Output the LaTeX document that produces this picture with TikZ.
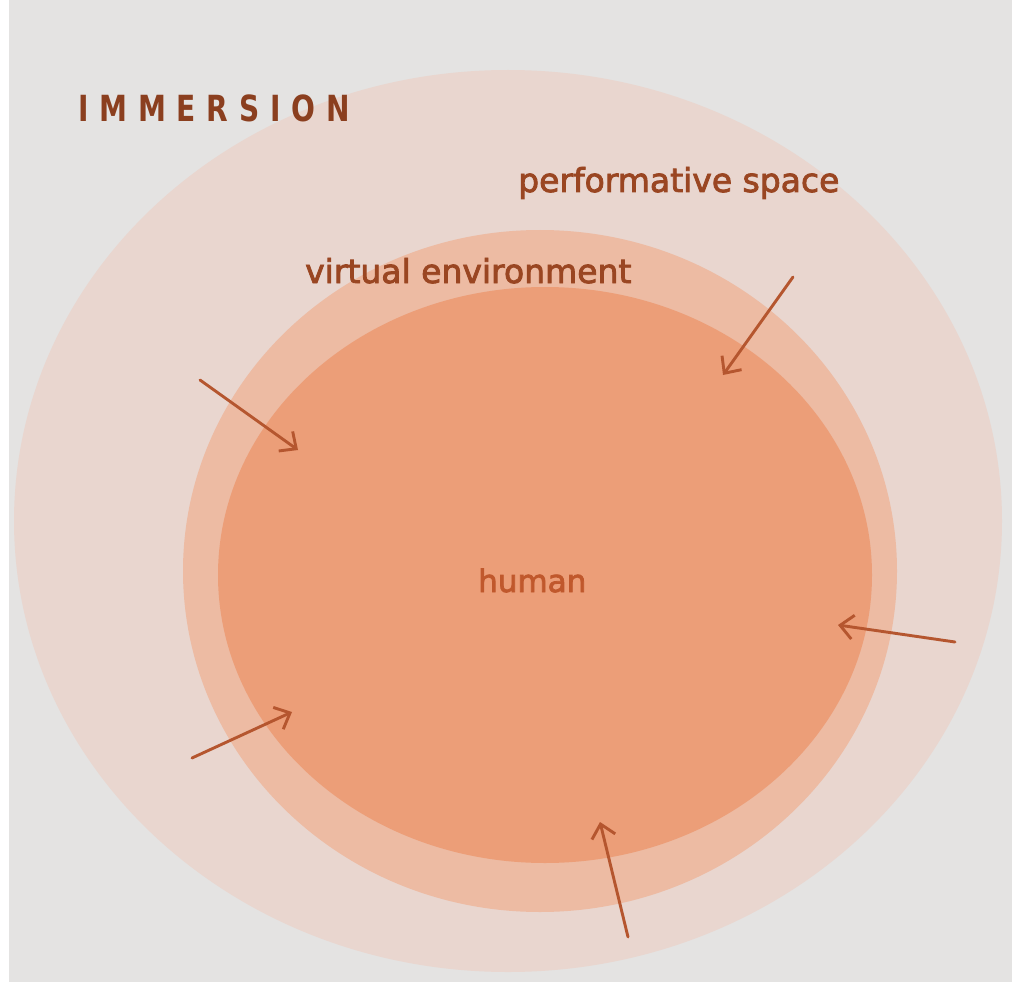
\documentclass[tikz,border=0pt]{standalone}
\usepackage{fontspec}
\setmainfont{DejaVu Sans}
\newfontfamily\labelfont[FakeBold=2.5]{DejaVu Sans}
\newfontfamily\immfont[FakeStretch=0.78,LetterSpace=30]{DejaVu Sans Bold}
\usepackage{tikz}
\usetikzlibrary{arrows.meta}
\definecolor{bgcol}{HTML}{E4E3E2}
\definecolor{outercol}{HTML}{E9D6CF}
\definecolor{middlecol}{HTML}{EDBBA3}
\definecolor{innercol}{HTML}{EC9E78}
\definecolor{labelbrown}{HTML}{9A4622}
\definecolor{humancol}{HTML}{C0582C}
\definecolor{arrowcol}{HTML}{B5562F}

\begin{document}
\begin{tikzpicture}[
    x=1pt, y=-1pt,
    label text/.style={anchor=base west, inner sep=0pt, text=labelbrown,
        font=\labelfont\fontsize{33}{40}\selectfont},
    push arrow/.style={-{Straight Barb[length=13pt,width=24pt]},
        line width=2.9pt, draw=arrowcol, line cap=round},
    every node/.style={inner sep=0pt}
    ]

    % page and background
    \fill[white] (0,0) rectangle (1012,987);
    \useasboundingbox (0,0) rectangle (1012,987);
    \fill[bgcol] (9,0) rectangle (1012,982);
    % zones
    \fill[outercol] (508,521) ellipse [x radius=494pt, y radius=451pt];
    \fill[middlecol] (540,571) ellipse [x radius=357pt, y radius=341pt];
    \fill[innercol] (545,575) ellipse [x radius=327pt, y radius=288pt];
    % labels
    \node[label text, text=labelbrown!90!black, font=\immfont\fontsize{36}{42}\selectfont] (immersion) at (78,122) {IMMERSION};
    \node[label text] (space) at (518,192) {performative space};
    \node[label text] (virtual) at (305,283) {virtual environment};
    \node[label text, text=humancol, font=\labelfont\fontsize{31}{37}\selectfont] (human) at (478,592) {human};
    % arrow ends
    \coordinate (tail nw) at (200,380);  \coordinate (tip nw) at (298,450);
    \coordinate (tail sw) at (192,758);  \coordinate (tip sw) at (292,712);
    \coordinate (tail ne) at (793,277);  \coordinate (tip ne) at (723,375);
    \coordinate (tail e)  at (955,642);  \coordinate (tip e)  at (838,625);
    \coordinate (tail s)  at (628,937);  \coordinate (tip s)  at (600,822);
    % arrows pointing in
    \foreach \d in {nw, sw, ne, e, s}
        \draw[push arrow] (tail \d) -- (tip \d);
\end{tikzpicture}
\end{document}
